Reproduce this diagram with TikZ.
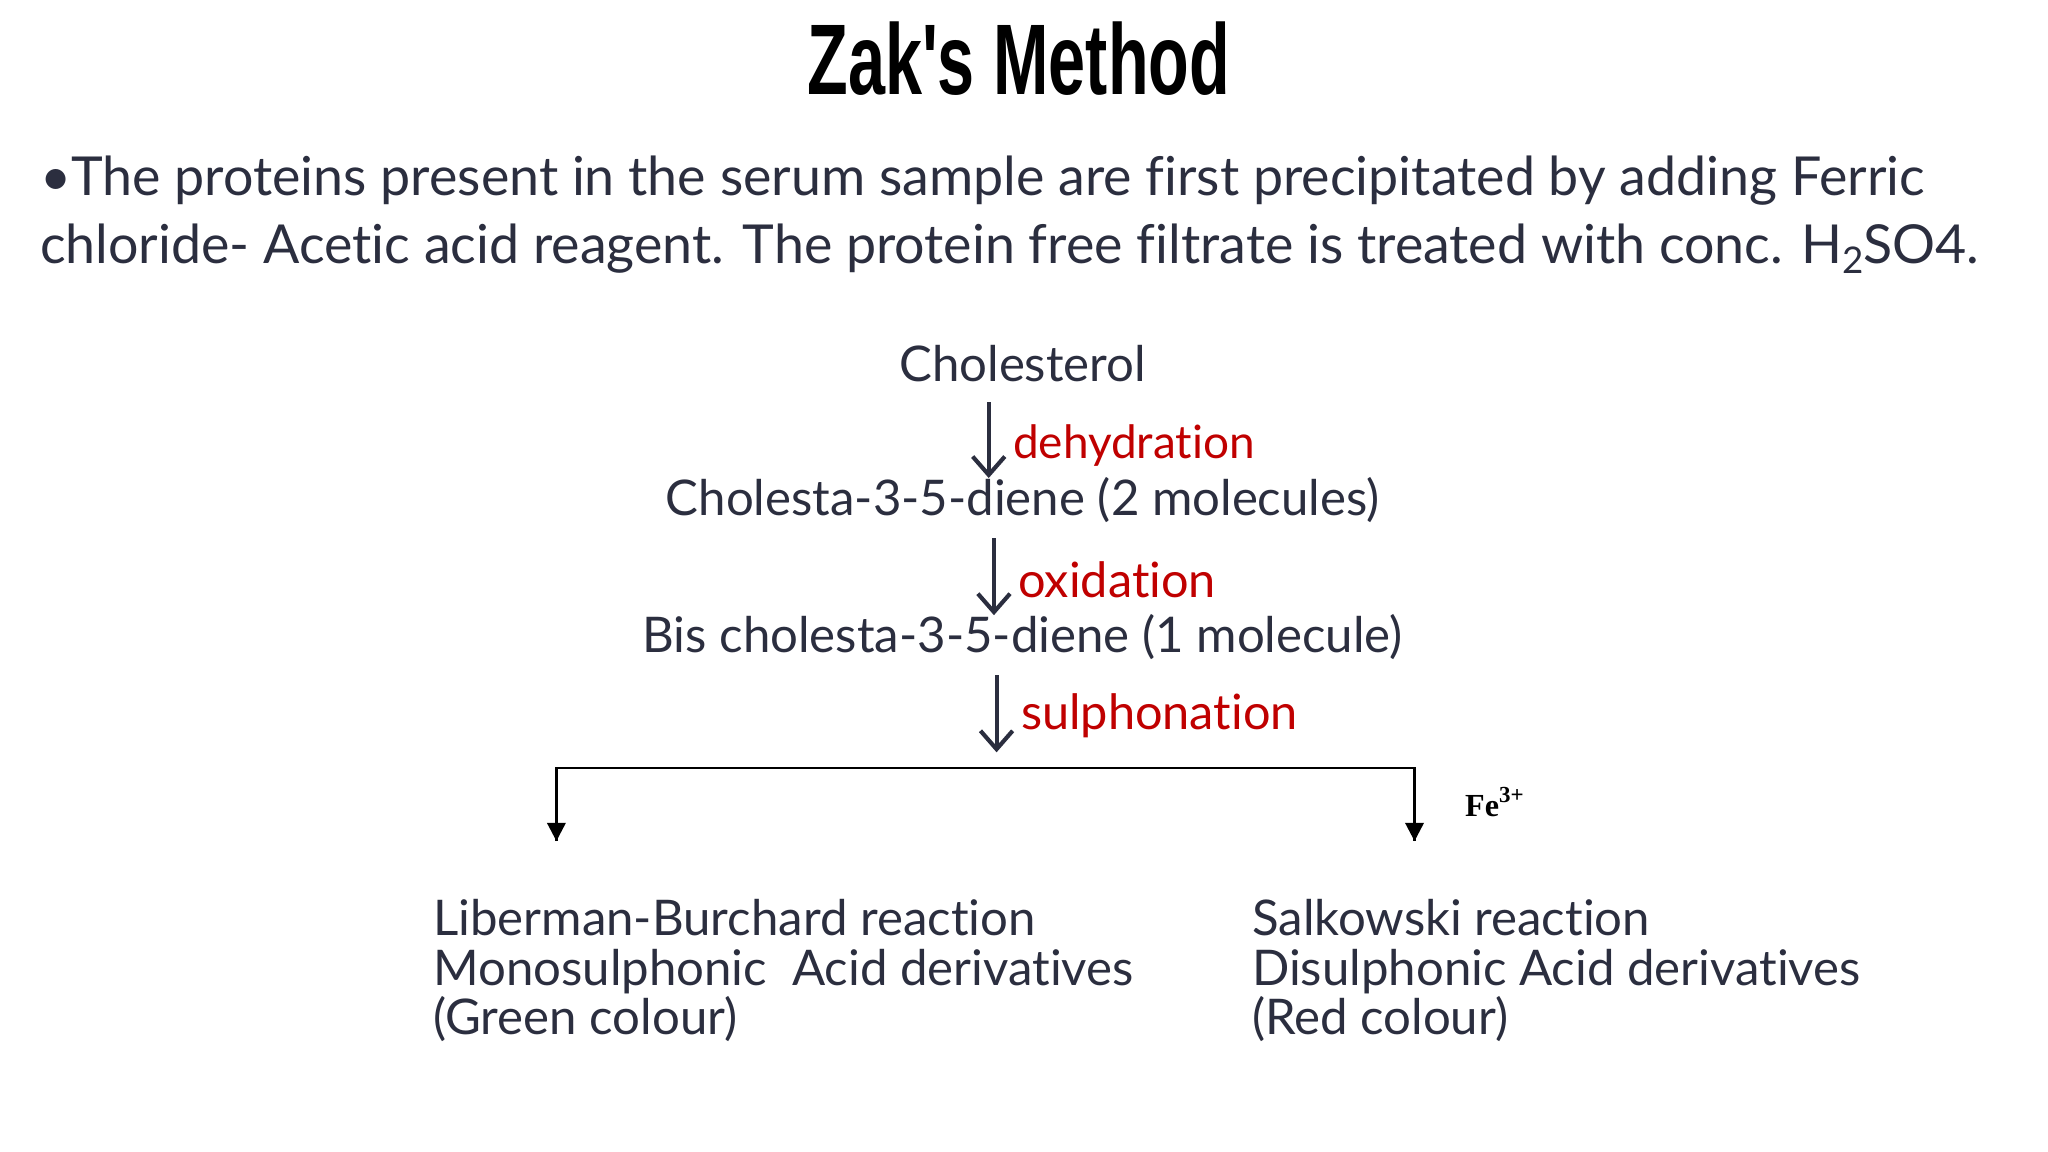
\documentclass[tikz,border=0pt]{standalone}
\usepackage{fontspec}
\setmainfont[RawFeature={-liga}]{Lato}
\newfontfamily\titlefont{Liberation Sans}
\newfontfamily\serifx{Liberation Serif}
\usetikzlibrary{arrows.meta}
\definecolor{ink}{HTML}{2B2E3F}
\definecolor{redlab}{HTML}{C00000}
\tikzset{
 body/.style={text=ink,inner sep=0pt,font=\fontsize{11.7}{12}\selectfont},
 flow/.style={text=ink,inner sep=0pt,font=\fontsize{10.7}{12}\selectfont},
 lab/.style={text=redlab,inner sep=0pt,anchor=west,font=\fontsize{10}{12}\selectfont},
 darr/.style={ink,line width=0.9pt,-{Straight Barb[length=4pt,width=7pt]}},
 barr/.style={black,line width=0.6pt,-{Triangle[length=4pt,width=4pt]}},
}
\begin{document}
\begin{tikzpicture}[x=0.01cm,y=-0.01cm]
\useasboundingbox[fill=white] (0,0) rectangle (1568,882);
\node[inner sep=0pt] (title) at (780,45) {\scalebox{0.63}[0.95]{\titlefont\bfseries\fontsize{23}{26}\selectfont Zak's Method}};
\node[body,anchor=base west] (l1) at (30,150) {\textbullet The proteins present in the serum sample are first precipitated by adding Ferric};
\node[body,anchor=base west] (l2) at (30,202) {chloride- Acetic acid reagent. The protein free filtrate is treated with conc. H\raisebox{-0.35ex}{\fontsize{8}{9}\selectfont 2}SO4.};
\node[flow] (c1) at (783,278) {Cholesterol};
\node[flow] (c2) at (783,383) {Cholesta-3-5-diene (2 molecules)};
\node[flow] (c3) at (783,488) {Bis cholesta-3-5-diene (1 molecule)};
\coordinate (a1s) at (757,308); \coordinate (a1e) at (757,366);
\coordinate (a2s) at (761,412); \coordinate (a2e) at (761,471);
\coordinate (a3s) at (763,517); \coordinate (a3e) at (763,576);
\draw[darr] (a1s) -- (a1e);
\draw[darr] (a2s) -- (a2e);
\draw[darr] (a3s) -- (a3e);
\node[lab] (d1) at (775,341) {dehydration};
\node[lab,font=\fontsize{10.6}{12}\selectfont] (d2) at (779,444) {oxidation};
\node[lab,font=\fontsize{10.6}{12}\selectfont] (d3) at (781,548) {sulphonation};
\coordinate (bl) at (426,588); \coordinate (br) at (1083,588);
\coordinate (blE) at (426,644); \coordinate (brE) at (1083,644);
\draw[black,line width=0.6pt] (blE) -- (bl) -- (br) -- (brE);
\draw[barr] (426,630) -- (blE);
\draw[barr] (1083,630) -- (brE);
\node[inner sep=0pt,font=\serifx\bfseries\fontsize{7}{8}\selectfont] (fe) at (1145,614) {Fe\textsuperscript{3+}};
\node[flow,anchor=north west,align=left,font=\fontsize{10.7}{10.8}\selectfont] (left) at (331,688) {Liberman-Burchard reaction\\Monosulphonic\ \ Acid derivatives\\(Green colour)};
\node[flow,anchor=north west,align=left,font=\fontsize{10.7}{10.8}\selectfont] (right) at (958,688) {Salkowski reaction\\Disulphonic Acid derivatives\\(Red colour)};
\end{tikzpicture}
\end{document}
